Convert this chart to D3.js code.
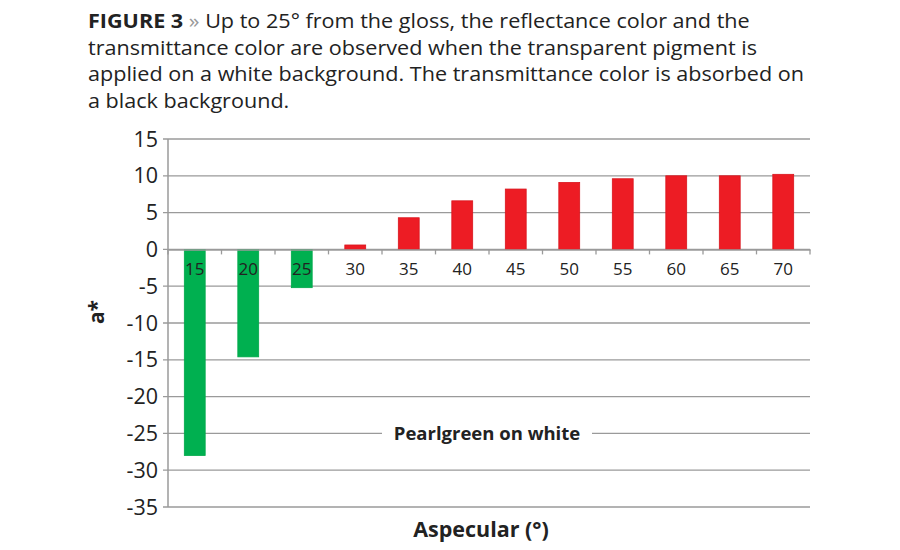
<!DOCTYPE html>
<html>
<head>
<meta charset="utf-8">
<script src="https://cdn.jsdelivr.net/npm/d3@7"></script>
<style>
  body { margin: 0; background: #fff; }
  text { font-family: "Open Sans", sans-serif; }
</style>
</head>
<body>
<div id="chart"></div>
<script>
// Data
var angles = ["15", "20", "25", "30", "35", "40", "45", "50", "55", "60", "65", "70"];
var aStar = [-28.0, -14.6, -5.2, 0.6, 4.3, 6.6, 8.2, 9.1, 9.6, 10.0, 10.0, 10.2];
var yTicks = [15, 10, 5, 0, -5, -10, -15, -20, -25, -30, -35];
var titleLines = [
  "Up to 25° from the gloss, the reflectance color and the",
  "transmittance color are observed when the transparent pigment is",
  "applied on a white background. The transmittance color is absorbed on",
  "a black background."
];

var svgWidth = 900;
var svgHeight = 550;

var plot = { left: 168, right: 810, top: 139, bottom: 507 };

var svg = d3.select("#chart")
  .append("svg")
  .attr("width", svgWidth)
  .attr("height", svgHeight);

// Title (the caption font runs a little wide, so stretch it horizontally)
var title = svg.append("g")
  .attr("transform", "translate(88, 0) scale(1.08, 1)")
  .append("text")
  .attr("font-size", 20)
  .attr("fill", "#222");

titleLines.forEach(function(line, i) {
  var t = title.append("tspan")
    .attr("x", 0)
    .attr("y", 28 + i * 26.7);
  if (i === 0) {
    t.append("tspan").attr("font-weight", "bold").text("FIGURE 3 ");
    t.append("tspan").attr("fill", "#999").text("» ");
    t.append("tspan").text(line);
  } else {
    t.text(line);
  }
});

// Scales
var x = d3.scaleBand()
  .domain(angles)
  .range([plot.left, plot.right]);

var y = d3.scaleLinear()
  .domain([-35, 15])
  .range([plot.bottom, plot.top]);

// Gridlines
svg.append("g")
  .selectAll("line")
  .data(yTicks)
  .enter()
  .append("line")
  .attr("x1", plot.left - 5)
  .attr("x2", plot.right)
  .attr("y1", d => y(d))
  .attr("y2", d => y(d))
  .attr("stroke", "#9a9a9a")
  .attr("stroke-width", 1.3);

// Y tick labels
svg.append("g")
  .selectAll("text")
  .data(yTicks)
  .enter()
  .append("text")
  .attr("x", 158)
  .attr("y", d => y(d))
  .attr("dy", "0.35em")
  .attr("text-anchor", "end")
  .attr("font-size", 21.5)
  .attr("fill", "#222")
  .text(d => d);

// Legend box on the -25 gridline
svg.append("rect")
  .attr("x", 382)
  .attr("y", y(-25) - 12)
  .attr("width", 210)
  .attr("height", 24)
  .attr("fill", "#fff");

svg.append("text")
  .attr("x", 487)
  .attr("y", y(-25))
  .attr("dy", "0.35em")
  .attr("text-anchor", "middle")
  .attr("font-size", 18.5)
  .attr("font-weight", "bold")
  .attr("fill", "#222")
  .text("Pearlgreen on white");

// Bars
var barW = x.bandwidth() * 0.39;
svg.append("g")
  .selectAll("rect")
  .data(aStar)
  .enter()
  .append("rect")
  .attr("x", (d, i) => x(angles[i]) + (x.bandwidth() - barW) / 2)
  .attr("y", d => y(Math.max(0, d)))
  .attr("width", barW)
  .attr("height", d => Math.abs(y(d) - y(0)))
  .attr("fill", d => d < 0 ? "#00b050" : "#ed1c24")
  .attr("stroke", d => d < 0 ? "#00a84a" : "#d9161e")
  .attr("stroke-width", 0.8);

// Y axis line
svg.append("line")
  .attr("x1", plot.left)
  .attr("x2", plot.left)
  .attr("y1", plot.top)
  .attr("y2", plot.bottom)
  .attr("stroke", "#9a9a9a")
  .attr("stroke-width", 1.5);

// X axis at zero
var xAxis = d3.axisBottom(x).tickSize(0).tickPadding(14);
var xg = svg.append("g")
  .attr("transform", `translate(0, ${y(0)})`)
  .call(xAxis);
xg.select(".domain").attr("stroke", "#9a9a9a").attr("stroke-width", 1.5);
xg.selectAll("text")
  .attr("font-size", 17)
  .attr("font-family", "Open Sans, sans-serif")
  .attr("fill", "#222");

// Boundary tick marks between categories
xg.append("g")
  .selectAll("line")
  .data(angles.concat(["end"]))
  .enter()
  .append("line")
  .attr("x1", (d, i) => i < angles.length ? x(d) : plot.right)
  .attr("x2", (d, i) => i < angles.length ? x(d) : plot.right)
  .attr("y1", 0)
  .attr("y2", 5)
  .attr("stroke", "#9a9a9a")
  .attr("stroke-width", 1.3);

// Axis titles
svg.append("text")
  .attr("transform", "translate(104, 312) rotate(-90)")
  .attr("text-anchor", "middle")
  .attr("font-size", 21)
  .attr("font-weight", "bold")
  .attr("fill", "#222")
  .text("a*");

svg.append("text")
  .attr("x", 481)
  .attr("y", 537)
  .attr("text-anchor", "middle")
  .attr("font-size", 21.5)
  .attr("font-weight", "bold")
  .attr("fill", "#222")
  .text("Aspecular (°)");
</script>
</body>
</html>
